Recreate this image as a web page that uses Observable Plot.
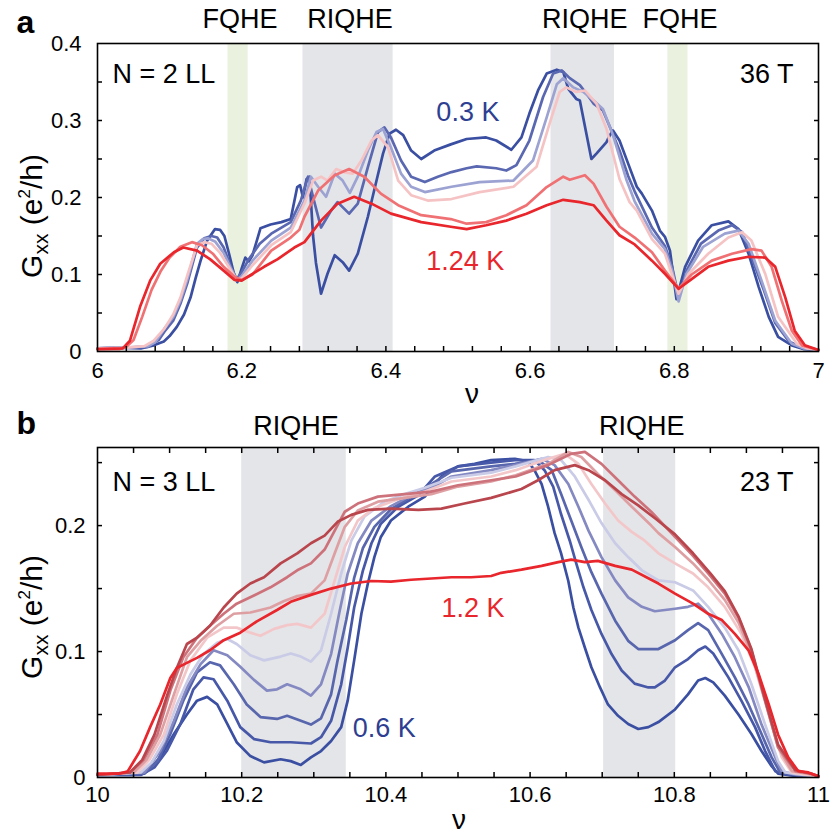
<!DOCTYPE html>
<html><head><meta charset="utf-8">
<script src="https://cdn.jsdelivr.net/npm/d3@7"></script>
<script src="https://cdn.jsdelivr.net/npm/@observablehq/plot@0.6"></script>
<style>
body{margin:0;background:#fff;}
#chart svg{display:block;}
</style></head><body><div id="chart"></div>
<script>
// ---------------- Panel a data (N = 2 LL, 36 T) ----------------
const xTicksA = [6, 6.2, 6.4, 6.6, 6.8, 7];
const yTicksA = [0, 0.1, 0.2, 0.3, 0.4];
const bandsA = [
  {label: "FQHE", kind: "F", x1: 6.181, x2: 6.209},
  {label: "RIQHE", kind: "R", x1: 6.285, x2: 6.41},
  {label: "RIQHE", kind: "R", x1: 6.629, x2: 6.717},
  {label: "FQHE", kind: "F", x1: 6.791, x2: 6.819}
];
const a1 = [[6.00,0.004],[6.03,0.005],[6.06,0.004],[6.078,0.008],[6.092,0.013],[6.10,0.02],[6.11,0.032],[6.12,0.048],[6.129,0.07],[6.136,0.095],[6.143,0.118],[6.152,0.144],[6.163,0.159],[6.17,0.158],[6.176,0.150],[6.183,0.125],[6.19,0.098],[6.194,0.09],[6.2,0.108],[6.205,0.122],[6.21,0.117],[6.215,0.125],[6.226,0.16],[6.24,0.165],[6.255,0.168],[6.268,0.172],[6.277,0.2135],[6.281,0.216],[6.285,0.200],[6.29,0.224],[6.294,0.227],[6.299,0.15],[6.303,0.115],[6.31,0.075],[6.319,0.101],[6.329,0.125],[6.340,0.116],[6.349,0.105],[6.361,0.127],[6.375,0.175],[6.387,0.222],[6.396,0.257],[6.405,0.283],[6.414,0.288],[6.424,0.281],[6.435,0.261],[6.449,0.250],[6.467,0.261],[6.49,0.269],[6.512,0.276],[6.539,0.278],[6.553,0.274],[6.574,0.262],[6.588,0.278],[6.599,0.309],[6.611,0.339],[6.623,0.361],[6.637,0.366],[6.646,0.363],[6.653,0.341],[6.664,0.328],[6.669,0.326],[6.678,0.283],[6.685,0.250],[6.692,0.257],[6.706,0.272],[6.71,0.28],[6.715,0.287],[6.724,0.274],[6.736,0.244],[6.748,0.214],[6.755,0.205],[6.769,0.183],[6.78,0.157],[6.787,0.149],[6.794,0.131],[6.803,0.068],[6.815,0.110],[6.833,0.144],[6.852,0.164],[6.875,0.169],[6.889,0.159],[6.903,0.127],[6.917,0.084],[6.931,0.045],[6.944,0.019],[6.963,0.008],[6.98,0.003],[7.0,0.002]];
const a2 = [[6.00,0.004],[6.04,0.005],[6.07,0.006],[6.085,0.015],[6.093,0.026],[6.105,0.04],[6.115,0.062],[6.125,0.09],[6.138,0.135],[6.148,0.147],[6.158,0.15],[6.166,0.148],[6.175,0.135],[6.185,0.11],[6.193,0.094],[6.2,0.103],[6.21,0.12],[6.225,0.14],[6.241,0.153],[6.268,0.168],[6.282,0.196],[6.292,0.227],[6.299,0.2005],[6.31,0.161],[6.324,0.183],[6.333,0.194],[6.349,0.179],[6.361,0.192],[6.375,0.2395],[6.389,0.285],[6.398,0.291],[6.407,0.278],[6.421,0.248],[6.435,0.227],[6.454,0.220],[6.472,0.227],[6.491,0.233],[6.512,0.238],[6.526,0.2405],[6.553,0.238],[6.567,0.235],[6.581,0.242],[6.599,0.274],[6.618,0.3305],[6.632,0.361],[6.644,0.365],[6.655,0.355],[6.669,0.346],[6.678,0.335],[6.688,0.322],[6.701,0.313],[6.711,0.291],[6.724,0.261],[6.736,0.228],[6.745,0.208],[6.769,0.161],[6.787,0.137],[6.797,0.110],[6.806,0.071],[6.817,0.105],[6.837,0.140],[6.861,0.157],[6.880,0.164],[6.894,0.155],[6.907,0.123],[6.924,0.080],[6.940,0.037],[6.959,0.013],[6.98,0.004],[7.0,0.002]];
const a3 = [[6.00,0.004],[6.04,0.005],[6.07,0.007],[6.08,0.012],[6.093,0.03],[6.105,0.045],[6.115,0.066],[6.125,0.095],[6.138,0.14],[6.146,0.146],[6.153,0.147],[6.163,0.143],[6.175,0.128],[6.185,0.108],[6.193,0.093],[6.2,0.098],[6.215,0.118],[6.241,0.144],[6.268,0.161],[6.287,0.196],[6.296,0.227],[6.306,0.214],[6.317,0.201],[6.329,0.231],[6.34,0.222],[6.35,0.206],[6.363,0.231],[6.375,0.261],[6.387,0.285],[6.396,0.289],[6.407,0.265],[6.421,0.231],[6.435,0.214],[6.454,0.207],[6.491,0.214],[6.53,0.22],[6.577,0.222],[6.604,0.248],[6.623,0.304],[6.637,0.347],[6.646,0.355],[6.66,0.343],[6.674,0.337],[6.688,0.326],[6.701,0.315],[6.715,0.281],[6.734,0.222],[6.745,0.195],[6.769,0.153],[6.787,0.133],[6.797,0.105],[6.806,0.065],[6.817,0.101],[6.840,0.136],[6.87,0.153],[6.889,0.157],[6.903,0.140],[6.921,0.092],[6.94,0.040],[6.963,0.010],[6.98,0.004],[7.0,0.002]];
const a4 = [[6.00,0.004],[6.04,0.005],[6.065,0.007],[6.078,0.014],[6.093,0.03],[6.105,0.048],[6.115,0.07],[6.125,0.1],[6.138,0.138],[6.148,0.142],[6.158,0.14],[6.17,0.128],[6.182,0.11],[6.193,0.093],[6.2,0.095],[6.215,0.112],[6.241,0.138],[6.268,0.155],[6.287,0.192],[6.299,0.222],[6.31,0.227],[6.319,0.222],[6.331,0.237],[6.342,0.233],[6.354,0.231],[6.366,0.248],[6.38,0.274],[6.389,0.281],[6.403,0.265],[6.417,0.222],[6.435,0.203],[6.458,0.196],[6.491,0.198],[6.53,0.207],[6.577,0.214],[6.609,0.240],[6.627,0.296],[6.641,0.337],[6.65,0.343],[6.664,0.337],[6.676,0.339],[6.692,0.322],[6.706,0.289],[6.724,0.224],[6.738,0.194],[6.748,0.183],[6.769,0.146],[6.787,0.127],[6.806,0.075],[6.82,0.101],[6.847,0.127],[6.875,0.148],[6.894,0.155],[6.907,0.144],[6.926,0.101],[6.944,0.045],[6.97,0.010],[6.985,0.004],[7.0,0.002]];
const a5 = [[6.00,0.003],[6.03,0.003],[6.04,0.006],[6.05,0.015],[6.062,0.045],[6.075,0.08],[6.088,0.105],[6.1,0.122],[6.115,0.136],[6.131,0.142],[6.145,0.138],[6.16,0.127],[6.175,0.11],[6.19,0.097],[6.2,0.093],[6.215,0.1],[6.241,0.131],[6.268,0.148],[6.28,0.158],[6.287,0.175],[6.306,0.209],[6.329,0.229],[6.349,0.237],[6.370,0.227],[6.393,0.205],[6.417,0.190],[6.449,0.177],[6.49,0.172],[6.512,0.166],[6.539,0.168],[6.567,0.177],[6.595,0.190],[6.623,0.2135],[6.646,0.227],[6.655,0.223],[6.676,0.229],[6.688,0.218],[6.706,0.188],[6.724,0.162],[6.745,0.148],[6.769,0.129],[6.787,0.105],[6.806,0.082],[6.824,0.100],[6.852,0.118],[6.88,0.127],[6.907,0.133],[6.921,0.131],[6.935,0.110],[6.949,0.066],[6.963,0.027],[6.977,0.008],[7.0,0.002]];
const a6 = [[6.00,0.003],[6.035,0.004],[6.045,0.014],[6.059,0.058],[6.073,0.092],[6.087,0.114],[6.106,0.129],[6.119,0.135],[6.138,0.131],[6.156,0.120],[6.175,0.105],[6.19,0.093],[6.2,0.092],[6.212,0.099],[6.231,0.110],[6.25,0.120],[6.273,0.135],[6.287,0.142],[6.31,0.170],[6.333,0.192],[6.356,0.201],[6.38,0.192],[6.407,0.179],[6.449,0.168],[6.49,0.162],[6.512,0.159],[6.539,0.164],[6.567,0.170],[6.595,0.179],[6.623,0.190],[6.646,0.197],[6.669,0.194],[6.688,0.190],[6.706,0.170],[6.724,0.151],[6.745,0.139],[6.769,0.118],[6.787,0.101],[6.806,0.0815],[6.824,0.094],[6.847,0.110],[6.875,0.118],[6.903,0.123],[6.926,0.122],[6.940,0.110],[6.954,0.070],[6.967,0.027],[6.981,0.008],[7.0,0.002]];
const seriesA = [a1, a2, a3, a4, a5, a6];

// ---------------- Panel b data (N = 3 LL, 23 T) ----------------
const xTicksB = [10, 10.2, 10.4, 10.6, 10.8, 11];
const yTicksB = [0, 0.1, 0.2];
const bandsB = [
  {label: "RIQHE", kind: "R", x1: 10.2, x2: 10.345},
  {label: "RIQHE", kind: "R", x1: 10.702, x2: 10.802}
];
const b1 = [[10.0,0.002],[10.05,0.002],[10.069,0.005],[10.087,0.016],[10.106,0.0345],[10.124,0.050],[10.138,0.061],[10.152,0.064],[10.166,0.058],[10.180,0.0425],[10.193,0.028],[10.212,0.017],[10.231,0.012],[10.254,0.0145],[10.268,0.013],[10.282,0.010],[10.296,0.016],[10.31,0.021],[10.324,0.029],[10.338,0.040],[10.347,0.061],[10.356,0.093],[10.366,0.130],[10.375,0.154],[10.384,0.175],[10.393,0.191],[10.407,0.204],[10.431,0.215],[10.454,0.223],[10.477,0.239],[10.5,0.247],[10.523,0.249],[10.546,0.252],[10.579,0.253],[10.597,0.251],[10.606,0.244],[10.616,0.233],[10.625,0.215],[10.634,0.194],[10.643,0.178],[10.653,0.156],[10.66,0.135],[10.667,0.119],[10.676,0.103],[10.685,0.0875],[10.697,0.0715],[10.708,0.058],[10.722,0.049],[10.736,0.0425],[10.75,0.0385],[10.764,0.040],[10.778,0.044],[10.801,0.054],[10.819,0.066],[10.833,0.077],[10.843,0.079],[10.854,0.0755],[10.870,0.065],[10.889,0.050],[10.907,0.0345],[10.921,0.021],[10.935,0.009],[10.944,0.003],[10.97,0.001],[11.0,0.001]];
const b2 = [[10.0,0.002],[10.06,0.002],[10.079,0.008],[10.096,0.021],[10.115,0.0425],[10.133,0.070],[10.147,0.0795],[10.161,0.078],[10.18,0.061],[10.198,0.040],[10.217,0.0305],[10.24,0.028],[10.268,0.028],[10.296,0.027],[10.31,0.032],[10.324,0.045],[10.338,0.074],[10.347,0.103],[10.356,0.135],[10.368,0.164],[10.38,0.186],[10.393,0.2015],[10.417,0.215],[10.445,0.224],[10.468,0.239],[10.5,0.247],[10.546,0.250],[10.579,0.252],[10.606,0.252],[10.62,0.244],[10.632,0.231],[10.643,0.209],[10.655,0.188],[10.664,0.170],[10.674,0.151],[10.685,0.133],[10.699,0.114],[10.713,0.098],[10.727,0.085],[10.745,0.0745],[10.764,0.0715],[10.773,0.0715],[10.787,0.077],[10.801,0.0875],[10.819,0.094],[10.833,0.101],[10.843,0.104],[10.854,0.0985],[10.875,0.0795],[10.893,0.061],[10.912,0.040],[10.926,0.021],[10.940,0.005],[10.96,0.002],[11.0,0.001]];
const b3 = [[10.0,0.002],[10.065,0.003],[10.083,0.013],[10.101,0.0345],[10.119,0.061],[10.138,0.0835],[10.156,0.0915],[10.170,0.089],[10.189,0.074],[10.207,0.058],[10.226,0.048],[10.249,0.0465],[10.263,0.049],[10.282,0.045],[10.296,0.042],[10.31,0.047],[10.324,0.066],[10.333,0.093],[10.345,0.125],[10.356,0.1585],[10.368,0.182],[10.384,0.199],[10.407,0.213],[10.435,0.223],[10.463,0.233],[10.491,0.243],[10.546,0.247],[10.579,0.249],[10.611,0.252],[10.63,0.244],[10.643,0.225],[10.657,0.204],[10.671,0.183],[10.685,0.163],[10.699,0.146],[10.718,0.1245],[10.736,0.1085],[10.750,0.102],[10.778,0.102],[10.801,0.109],[10.819,0.117],[10.833,0.1225],[10.847,0.117],[10.866,0.098],[10.884,0.0795],[10.903,0.058],[10.921,0.0345],[10.935,0.016],[10.947,0.004],[10.97,0.002],[11.0,0.001]];
const b4 = [[10.0,0.002],[10.065,0.004],[10.087,0.021],[10.106,0.045],[10.124,0.0715],[10.143,0.090],[10.161,0.101],[10.180,0.097],[10.198,0.088],[10.217,0.0775],[10.235,0.069],[10.249,0.070],[10.263,0.074],[10.282,0.070],[10.296,0.065],[10.31,0.074],[10.324,0.098],[10.336,0.1325],[10.347,0.162],[10.361,0.186],[10.38,0.204],[10.407,0.2155],[10.435,0.224],[10.463,0.230],[10.491,0.239],[10.546,0.244],[10.579,0.248],[10.616,0.253],[10.634,0.248],[10.653,0.233],[10.667,0.215],[10.681,0.196],[10.699,0.175],[10.718,0.1565],[10.736,0.143],[10.755,0.1355],[10.773,0.132],[10.801,0.134],[10.819,0.1355],[10.833,0.138],[10.847,0.130],[10.866,0.114],[10.884,0.0955],[10.903,0.072],[10.921,0.042],[10.940,0.016],[10.949,0.005],[10.97,0.002],[11.0,0.001]];
const b5 = [[10.0,0.002],[10.06,0.004],[10.075,0.012],[10.092,0.029],[10.11,0.058],[10.129,0.082],[10.147,0.098],[10.166,0.107],[10.18,0.110],[10.193,0.106],[10.212,0.097],[10.231,0.093],[10.254,0.096],[10.268,0.0985],[10.282,0.096],[10.296,0.092],[10.31,0.101],[10.324,0.130],[10.338,0.162],[10.352,0.188],[10.370,0.207],[10.398,0.219],[10.426,0.225],[10.454,0.230],[10.491,0.238],[10.546,0.242],[10.58,0.247],[10.625,0.2545],[10.643,0.252],[10.662,0.239],[10.681,0.2205],[10.699,0.202],[10.718,0.186],[10.736,0.175],[10.755,0.1645],[10.778,0.1565],[10.801,0.155],[10.826,0.1485],[10.847,0.1355],[10.870,0.119],[10.889,0.101],[10.907,0.074],[10.926,0.042],[10.944,0.013],[10.954,0.004],[10.98,0.002],[11.0,0.001]];
const b6 = [[10.0,0.002],[10.055,0.004],[10.072,0.014],[10.092,0.034],[10.11,0.066],[10.129,0.093],[10.152,0.111],[10.175,0.119],[10.193,0.119],[10.212,0.115],[10.226,0.1125],[10.245,0.118],[10.263,0.121],[10.277,0.122],[10.296,0.119],[10.315,0.130],[10.329,0.1565],[10.343,0.183],[10.361,0.204],[10.384,0.214],[10.417,0.221],[10.454,0.227],[10.491,0.235],[10.546,0.239],[10.58,0.244],[10.625,0.253],[10.648,0.257],[10.667,0.249],[10.685,0.233],[10.704,0.2175],[10.722,0.204],[10.741,0.195],[10.759,0.188],[10.778,0.178],[10.801,0.170],[10.826,0.162],[10.847,0.151],[10.870,0.1355],[10.893,0.114],[10.912,0.0875],[10.931,0.050],[10.949,0.016],[10.963,0.004],[10.985,0.002],[11.0,0.001]];
const b7 = [[10.0,0.002],[10.05,0.004],[10.068,0.014],[10.087,0.034],[10.106,0.066],[10.124,0.0955],[10.143,0.1085],[10.166,0.1205],[10.189,0.130],[10.212,0.131],[10.24,0.135],[10.258,0.140],[10.277,0.144],[10.296,0.146],[10.315,0.1565],[10.329,0.178],[10.343,0.199],[10.361,0.212],[10.389,0.219],[10.426,0.222],[10.463,0.225],[10.5,0.231],[10.546,0.235],[10.58,0.240],[10.625,0.249],[10.653,0.2585],[10.671,0.2545],[10.694,0.241],[10.718,0.228],[10.741,0.215],[10.768,0.200],[10.778,0.194],[10.801,0.183],[10.826,0.170],[10.847,0.157],[10.870,0.141],[10.889,0.123],[10.907,0.098],[10.926,0.061],[10.944,0.024],[10.963,0.005],[10.985,0.003],[11.0,0.001]];
const b8 = [[10.0,0.002],[10.045,0.004],[10.064,0.014],[10.083,0.034],[10.101,0.069],[10.119,0.0955],[10.138,0.111],[10.156,0.1205],[10.175,0.130],[10.193,0.138],[10.217,0.1445],[10.24,0.151],[10.263,0.159],[10.277,0.1645],[10.296,0.170],[10.315,0.181],[10.329,0.196],[10.343,0.211],[10.361,0.2175],[10.389,0.223],[10.426,0.225],[10.463,0.227],[10.5,0.232],[10.546,0.236],[10.58,0.239],[10.625,0.248],[10.657,0.257],[10.676,0.2585],[10.699,0.249],[10.722,0.236],[10.745,0.223],[10.768,0.211],[10.801,0.191],[10.826,0.176],[10.847,0.162],[10.87,0.146],[10.889,0.127],[10.907,0.101],[10.926,0.061],[10.944,0.024],[10.968,0.005],[10.99,0.003],[11.0,0.001]];
const b9 = [[10.0,0.002],[10.045,0.004],[10.062,0.014],[10.079,0.034],[10.097,0.066],[10.11,0.087],[10.124,0.106],[10.138,0.111],[10.156,0.1205],[10.175,0.135],[10.193,0.146],[10.212,0.154],[10.231,0.159],[10.254,0.170],[10.277,0.178],[10.296,0.186],[10.315,0.192],[10.333,0.203],[10.352,0.2085],[10.375,0.2125],[10.407,0.2135],[10.445,0.2125],[10.477,0.2135],[10.509,0.2175],[10.546,0.222],[10.588,0.229],[10.611,0.236],[10.634,0.244],[10.662,0.248],[10.681,0.244],[10.704,0.236],[10.727,0.225],[10.75,0.216],[10.775,0.205],[10.801,0.193],[10.826,0.178],[10.85,0.162],[10.87,0.148],[10.889,0.128],[10.907,0.102],[10.926,0.062],[10.944,0.026],[10.968,0.006],[10.99,0.003],[11.0,0.001]];
const b10 = [[10.0,0.003],[10.03,0.003],[10.042,0.005],[10.059,0.021],[10.073,0.040],[10.087,0.058],[10.101,0.079],[10.11,0.087],[10.124,0.091],[10.138,0.095],[10.156,0.101],[10.175,0.109],[10.198,0.115],[10.221,0.124],[10.249,0.133],[10.268,0.1395],[10.296,0.145],[10.324,0.150],[10.352,0.154],[10.38,0.156],[10.407,0.1555],[10.435,0.157],[10.463,0.158],[10.491,0.159],[10.518,0.159],[10.546,0.160],[10.56,0.1625],[10.588,0.165],[10.616,0.168],[10.639,0.171],[10.657,0.173],[10.676,0.171],[10.694,0.172],[10.718,0.168],[10.741,0.165],[10.768,0.157],[10.778,0.154],[10.801,0.146],[10.826,0.138],[10.847,0.130],[10.866,0.125],[10.884,0.114],[10.903,0.101],[10.917,0.082],[10.931,0.058],[10.944,0.034],[10.958,0.016],[10.972,0.005],[10.986,0.004],[11.0,0.001]];
const seriesB = [b1, b2, b3, b4, b5, b6, b7, b8, b9, b10];

// ---------------- styles ----------------
const colorsA = ["#3a4fa2", "#5a67b1", "#9ca2d2", "#f6c3c4", "#f07174", "#e8262c"];
const colorsB = ["#3a4fa2", "#4758a9", "#5866ae", "#8489c2", "#c9cbe7", "#f3c7c9", "#de9fa3", "#cd727a", "#b9454d", "#e8262c"];
const bandFill = {F: "#eaf2df", R: "#e4e5e8"};
const FONT = "'Liberation Sans', Arial, Helvetica, sans-serif";
const BLUE_TXT = "#2e3f92", RED_TXT = "#e8262b";
const ANN = 27;

function panel(o) {
  const marks = [
    Plot.rect(o.bands, {x1: "x1", x2: "x2", y1: o.yDomain[0], y2: o.yDomain[1], fill: d => bandFill[d.kind]}),
    ...o.series.map((s, i) => Plot.line(s, {x: d => d[0], y: d => d[1], stroke: o.colors[i], strokeWidth: 2.7, strokeLinejoin: "round"})),
    Plot.frame({stroke: "#000", strokeWidth: 1.6}),
    Plot.axisX({anchor: "bottom", ticks: o.xMinor, tickSize: -5, strokeWidth: 1.5, tickFormat: () => "", label: null}),
    ...(o.topTicks ? [Plot.axisX({anchor: "top", ticks: o.xMinor, tickSize: -5, strokeWidth: 1.5, tickFormat: () => "", label: null})] : []),
    Plot.axisX({anchor: "bottom", ticks: o.xTicks, tickSize: 0, tickPadding: o.xPad, fontSize: 22, tickFormat: d => String(d), label: null}),
    Plot.axisY({anchor: "left", ticks: o.yMinor, tickSize: -5, strokeWidth: 1.5, tickFormat: () => "", label: null}),
    Plot.axisY({anchor: "right", ticks: o.yMinor, tickSize: -5, strokeWidth: 1.5, tickFormat: () => "", label: null}),
    Plot.axisY({anchor: "left", ticks: o.yTicks, tickSize: 0, tickPadding: o.yPad, fontSize: 22, tickFormat: d => d === 0 ? "0" : d.toFixed(1), label: null}),
    Plot.text(o.bands, {x: d => (d.x1 + d.x2) / 2, text: "label", frameAnchor: "top", dx: 2, dy: o.bandDy, fontSize: ANN, lineAnchor: "middle"}),
    Plot.text([o.letter], {text: d => d, frameAnchor: "top-left", dx: -81, dy: o.letterDy, fontSize: 32, fontWeight: "bold", textAnchor: "start", lineAnchor: "middle"}),
    Plot.text([o.ll], {text: d => d, frameAnchor: "top-left", dx: 15, dy: o.innerDy, fontSize: ANN, textAnchor: "start", lineAnchor: "middle"}),
    Plot.text([o.field], {text: d => d, frameAnchor: "top-right", dx: -25, dy: o.innerDy, fontSize: ANN, textAnchor: "end", lineAnchor: "middle"}),
    Plot.text(["\u03bd"], {text: d => d, frameAnchor: "bottom", dx: o.nuDx, dy: o.nuDy, fontSize: 28, lineAnchor: "middle"}),
    Plot.text([o.lowT.t], {text: d => d, x: [o.lowT.x], y: [o.lowT.y], fill: BLUE_TXT, fontSize: ANN, textAnchor: "start", lineAnchor: "middle"}),
    Plot.text([o.highT.t], {text: d => d, x: [o.highT.x], y: [o.highT.y], fill: RED_TXT, fontSize: ANN, textAnchor: "start", lineAnchor: "middle"})
  ];
  const svg = Plot.plot({
    width: 830, height: o.height,
    marginLeft: 97, marginRight: 12, marginTop: o.mt, marginBottom: o.mb,
    style: {fontFamily: FONT, background: "white", color: "black", overflow: "visible"},
    x: {domain: o.xDomain},
    y: {domain: o.yDomain},
    marks
  });
  // y-axis title with subscript / superscript
  const t = d3.select(svg).append("text")
    .attr("transform", `translate(31,${o.yTitleY}) rotate(-90)`)
    .attr("text-anchor", "middle").attr("dy", "0.36em")
    .attr("font-family", FONT).attr("font-size", 30).attr("fill", "black");
  t.append("tspan").text("G");
  t.append("tspan").attr("font-size", 21).attr("dy", 6).text("xx");
  t.append("tspan").attr("dy", -6).text(" (e");
  t.append("tspan").attr("font-size", 17).attr("dy", -12).text("2");
  t.append("tspan").attr("dy", 12).text("/h)");
  return svg;
}

const root = document.getElementById("chart");
root.append(panel({
  height: 400, mt: 43, mb: 49,
  xDomain: [6, 7], yDomain: [0, 0.4],
  xTicks: xTicksA, yTicks: yTicksA,
  xMinor: d3.range(1, 25).map(i => 6 + i * 0.04),
  yMinor: d3.range(1, 8).map(i => i * 0.05),
  topTicks: false, xPad: 11, yPad: 16,
  bands: bandsA, series: seriesA, colors: colorsA,
  bandDy: -24, letter: "a", letterDy: -21, ll: "N = 2 LL", field: "36 T", innerDy: 31,
  nuDx: 14, nuDy: 43,
  lowT: {t: "0.3 K", x: 6.47, y: 0.31},
  highT: {t: "1.24 K", x: 6.456, y: 0.117},
  yTitleY: 216
}));
root.append(panel({
  height: 437, mt: 47, mb: 60,
  xDomain: [10, 11], yDomain: [0, 0.262],
  xTicks: xTicksB, yTicks: yTicksB,
  xMinor: d3.range(1, 20).map(i => 10 + i * 0.05),
  yMinor: d3.range(1, 6).map(i => i * 0.05),
  topTicks: true, xPad: 9, yPad: 12,
  bands: bandsB, series: seriesB, colors: colorsB,
  bandDy: -21, letter: "b", letterDy: -24, ll: "N = 3 LL", field: "23 T", innerDy: 35,
  nuDx: 1, nuDy: 43,
  lowT: {t: "0.6 K", x: 10.354, y: 0.039},
  highT: {t: "1.2 K", x: 10.477, y: 0.134},
  yTitleY: 217
}));
</script></body></html>
